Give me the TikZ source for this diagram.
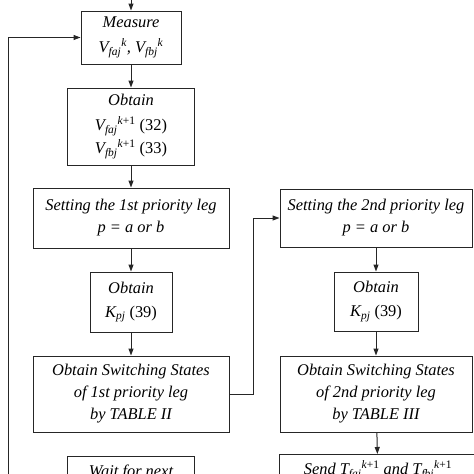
\documentclass[tikz,border=0pt]{standalone}
\usepackage{fontspec}
\setmainfont{Liberation Serif}
\usepackage{tikz}
\usetikzlibrary{arrows.meta, positioning}
\newcommand{\subsup}[3]{#1\textsubscript{#2}\textsuperscript{#3}}
\newcommand{\knext}{k\textup{+1}}

\begin{document}
\begin{tikzpicture}[
  x=1pt, y=-1pt,
  font=\fontsize{16.4}{22}\selectfont\itshape,
  node distance=23pt and 50pt,
  stepbox/.style={
    rectangle, draw=black!85, line width=1pt,
    align=center, inner sep=2pt
  },
  openbox/.style={
    stepbox, anchor=north, text depth=30pt, text height=18pt
  },
  arr/.style={-{Triangle[length=7pt, width=5pt]}, line width=1pt, color=black!85},
]
\useasboundingbox (0,0) rectangle (474,474);
\clip (0,0) rectangle (474,474);

% left column
\node[stepbox, minimum width=100pt, minimum height=53pt] (meas) at (131,37.5)
      {Measure\\[3pt] \subsup{V}{faj}{k}, \subsup{V}{fbj}{k}};
\node[stepbox, below=of meas, minimum width=127pt, minimum height=77pt] (obt)
      {Obtain\\[3pt] \subsup{V}{faj}{\knext} \textup{(32)}\\[1pt] \subsup{V}{fbj}{\knext} \textup{(33)}};
\node[stepbox, below=22pt of obt, minimum width=196pt, minimum height=60pt] (setA)
      {Setting the 1st priority leg\\ p = a or b};
\node[stepbox, below=of setA, minimum width=82pt, minimum height=60pt] (kpjA)
      {Obtain\\[2pt] K\textsubscript{pj} \textup{(39)}};
\node[stepbox, below=of kpjA, minimum width=196pt, minimum height=76pt] (swA)
      {Obtain Switching States\\ of 1st priority leg\\ by TABLE II};
\node[openbox, minimum width=127pt] (wait) at (131,456) {Wait for next};

% right column
\node[stepbox, right=of setA, minimum width=192pt, minimum height=58pt] (setB)
      {Setting the 2nd priority leg\\ p = a or b};
\node[stepbox, below=24pt of setB, minimum width=84pt, minimum height=59pt] (kpjB)
      {Obtain\\[2pt] K\textsubscript{pj} \textup{(39)}};
\node[stepbox, below=24pt of kpjB, minimum width=192pt, minimum height=76pt] (swB)
      {Obtain Switching States\\ of 2nd priority leg\\ by TABLE III};
\node[openbox, minimum width=198pt] (send) at (378,454)
      {Send \subsup{T}{faj}{\knext} and \subsup{T}{fbj}{\knext}};

% free ends
\coordinate[above=15pt of meas] (entry);
\coordinate (loopend) at (8,490);

\draw[arr] (entry) -- (meas);
\draw[arr] (meas) -- (obt);
\draw[arr] (obt)  -- (setA);
\draw[arr] (setA) -- (kpjA);
\draw[arr] (kpjA) -- (swA);
\draw[arr] (swA.east) -- ++(24,0) |- (setB.west);
\draw[arr] (setB) -- (kpjB);
\draw[arr] (kpjB) -- (swB);
\draw[arr] (swB)  -- (send);
\draw[arr] (loopend) |- (meas.west);

\end{tikzpicture}
\end{document}
